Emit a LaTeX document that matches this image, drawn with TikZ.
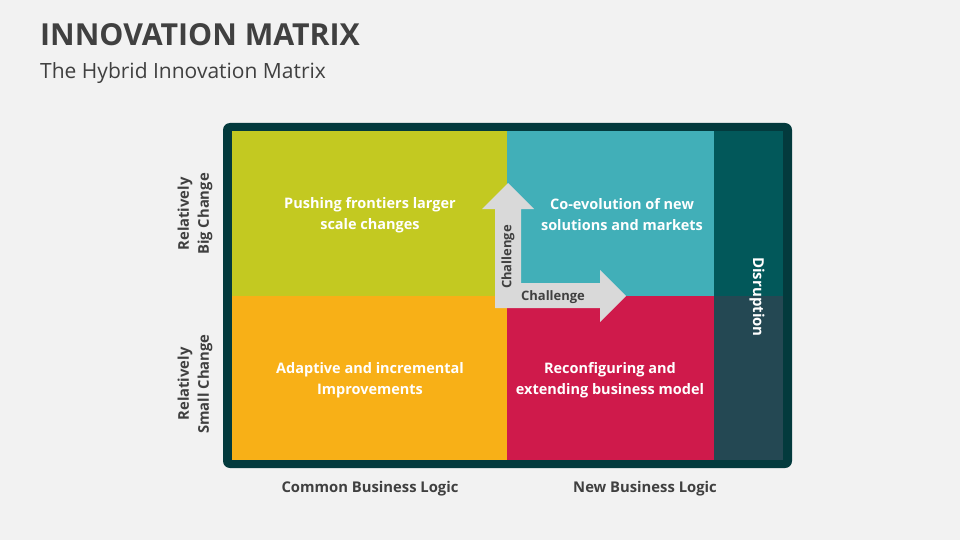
\documentclass[tikz,border=0pt]{standalone}
\usepackage{fontspec}
\setmainfont{Open Sans}
\definecolor{bg}{HTML}{F2F2F2}
\definecolor{frame}{HTML}{033A3D}
\definecolor{cgreen}{HTML}{C3C921}
\definecolor{cteal}{HTML}{41AFB8}
\definecolor{corange}{HTML}{F8B017}
\definecolor{cred}{HTML}{CF1A4B}
\definecolor{cdark}{HTML}{02585A}
\definecolor{cslate}{HTML}{244853}
\definecolor{txt}{HTML}{404040}
\definecolor{arrowgray}{HTML}{D9D9D9}
\begin{document}
\begin{tikzpicture}[x=1pt,y=-1pt,
  celltext/.style={text=white,font=\fontsize{14.5}{21}\selectfont\bfseries,align=center},
  axistext/.style={text=txt,font=\fontsize{14.8}{20}\selectfont\bfseries,align=center},
  cell/.style={draw=none}]
\fill[bg] (0,0) rectangle (960,540);
\useasboundingbox (0,0) rectangle (960,540);
\node[anchor=west,text=txt,font=\fontsize{30.3}{34}\selectfont\bfseries,inner sep=0pt] (title) at (40,35) {INNOVATION MATRIX};
\node[anchor=west,text=txt,font=\fontsize{21}{24}\selectfont,inner sep=0pt] (subtitle) at (40,73) {The Hybrid Innovation Matrix};
\fill[frame,rounded corners=7pt] (223,123) rectangle (792,468);
\fill[cgreen] (232,131) rectangle (507,296);
\fill[cteal] (507,131) rectangle (714,296);
\fill[corange] (232,296) rectangle (507,460);
\fill[cred] (507,296) rectangle (714,460);
\fill[cdark] (714,131) rectangle (783,296);
\fill[cslate] (714,296) rectangle (783,460);
% L arrow
\fill[arrowgray] (495,308) -- (495,209) -- (482,209) -- (508,183) -- (534,209) -- (521,209)
  -- (521,283) -- (600,283) -- (600,270) -- (626,296) -- (600,322) -- (600,308) -- cycle;
\node[rotate=90,text=txt,font=\fontsize{13}{15}\selectfont\bfseries] (chv) at (508,257) {Challenge};
\node[text=txt,font=\fontsize{13}{15}\selectfont\bfseries] (chh) at (553,297) {Challenge};
\node[celltext] (q1) at (370,215) {Pushing frontiers larger\\scale changes};
\node[celltext] (q2) at (622,215) {Co-evolution of new\\solutions and markets};
\node[celltext] (q3) at (370,380) {Adaptive and incremental\\Improvements};
\node[celltext] (q4) at (610,380) {Reconfiguring and\\extending business model};
\node[rotate=-90,text=white,font=\fontsize{15}{18}\selectfont\bfseries] (dis) at (757,297) {Disruption};
\node[axistext,rotate=90] (big) at (195,214) {Relatively\\Big Change};
\node[axistext,rotate=90] (small) at (195,384) {Relatively\\Small Change};
\node[axistext] (cbl) at (370,489) {Common Business Logic};
\node[axistext] (nbl) at (645,489) {New Business Logic};
\end{tikzpicture}
\end{document}
